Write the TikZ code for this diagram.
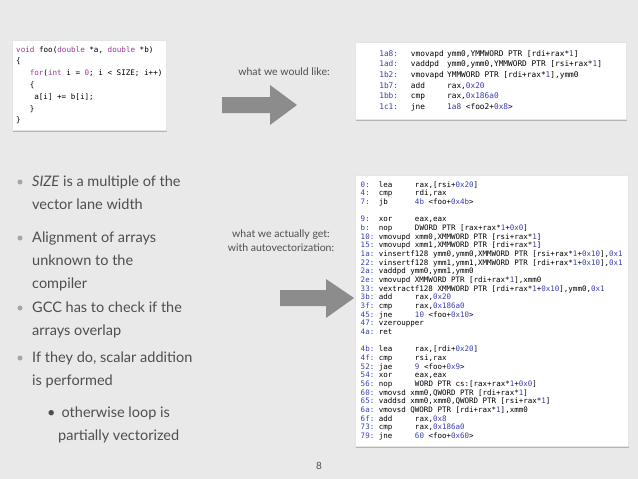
\documentclass[tikz,border=0pt]{standalone}
\usepackage{fontspec}
\setmainfont{Lato}
\setmonofont{DejaVu Sans Mono}
\usetikzlibrary{shadows}
\definecolor{bg}{HTML}{E9E9EA}
\definecolor{txt}{HTML}{4E4E50}
\definecolor{nb}{HTML}{3A3FB0}
\definecolor{kw}{HTML}{9A3C9A}
\definecolor{arr}{HTML}{8C8C8C}
\newlength\ch \setlength\ch{4.52pt}
\newcommand\B[1]{\textcolor{nb}{#1}}
\newcommand\K[1]{\textcolor{kw}{#1}}
\newcommand\Lx[3]{\makebox[4\ch][l]{\B{#1}}\makebox[8\ch][l]{#2}#3}
\newcommand\Ly[3]{\makebox[4\ch][l]{\B{#1}}#2 #3}
\newcommand\Lz[3]{\makebox[7\ch][l]{\B{#1}}\makebox[8\ch][l]{#2}#3}
\tikzset{
 codebox/.style={draw=white!80!gray, fill=white, drop shadow={shadow xshift=1pt,shadow yshift=-1.5pt,opacity=0.5}, align=left, inner sep=4pt, anchor=north west, font=\ttfamily},
 bul/.style={text=txt, font=\fontsize{14.5}{23}\selectfont, anchor=base west, inner sep=0pt},
 lab/.style={text=txt, font=\fontsize{10.5}{14}\selectfont, align=center},
 dot/.style={circle, fill=gray!70, inner sep=0pt, minimum size=5pt},
 blk/.style={fill=arr, draw=none}
}
\begin{document}
\begin{tikzpicture}[x=1pt,y=-1pt]
\useasboundingbox (0,0) rectangle (638,479);
\fill[bg] (0,0) rectangle (638,479);

\node[codebox, minimum width=154pt, minimum height=90pt, font=\ttfamily\fontsize{7.6}{11.8}\selectfont] (c) at (12,40) {%
\K{void} foo(\K{double} *a, \K{double} *b)\\
\{\\
\hspace{3\ch}\K{for}(\K{int} i = \K{0}; i < SIZE; i++)\\
\hspace{3\ch}\{\\
\hspace{4\ch}a[i] += b[i];\\
\hspace{3\ch}\}\\
\}};

\node[codebox, minimum width=271pt, minimum height=77pt, font=\ttfamily\fontsize{7.8}{10.6}\selectfont] (w) at (355,42) {%
\Lz{1a8:}{vmovapd}{ymm0,YMMWORD PTR [rdi+rax*\B{1}]}\\
\Lz{1ad:}{vaddpd}{ymm0,ymm0,YMMWORD PTR [rsi+rax*\B{1}]}\\
\Lz{1b2:}{vmovapd}{YMMWORD PTR [rdi+rax*\B{1}],ymm0}\\
\Lz{1b7:}{add}{rax,\B{0x20}}\\
\Lz{1bb:}{cmp}{rax,\B{0x186a0}}\\
\Lz{1c1:}{jne}{\B{1a8} <foo2+\B{0x8}>}};

\node[codebox, minimum width=273pt, minimum height=271pt, font=\ttfamily\fontsize{7.5}{8.66}\selectfont] (a) at (355,175) {%
\Lx{0:}{lea}{rax,[rsi+\B{0x20}]}\\
\Lx{4:}{cmp}{rdi,rax}\\
\Lx{7:}{jb}{\B{4b} <foo+\B{0x4b}>}\\
\mbox{}\\
\Lx{9:}{xor}{eax,eax}\\
\Lx{b:}{nop}{DWORD PTR [rax+rax*\B{1}+\B{0x0}]}\\
\Ly{10:}{vmovupd}{xmm0,XMMWORD PTR [rsi+rax*\B{1}]}\\
\Ly{15:}{vmovupd}{xmm1,XMMWORD PTR [rdi+rax*\B{1}]}\\
\Ly{1a:}{vinsertf128}{ymm0,ymm0,XMMWORD PTR [rsi+rax*\B{1}+\B{0x10}],\B{0x1}}\\
\Ly{22:}{vinsertf128}{ymm1,ymm1,XMMWORD PTR [rdi+rax*\B{1}+\B{0x10}],\B{0x1}}\\
\Ly{2a:}{vaddpd}{ymm0,ymm1,ymm0}\\
\Ly{2e:}{vmovupd}{XMMWORD PTR [rdi+rax*\B{1}],xmm0}\\
\Ly{33:}{vextractf128}{XMMWORD PTR [rdi+rax*\B{1}+\B{0x10}],ymm0,\B{0x1}}\\
\Lx{3b:}{add}{rax,\B{0x20}}\\
\Lx{3f:}{cmp}{rax,\B{0x186a0}}\\
\Lx{45:}{jne}{\B{10} <foo+\B{0x10}>}\\
\Ly{47:}{vzeroupper}{}\\
\Ly{4a:}{ret}{}\\
\mbox{}\\
\Lx{4b:}{lea}{rax,[rdi+\B{0x20}]}\\
\Lx{4f:}{cmp}{rsi,rax}\\
\Lx{52:}{jae}{\B{9} <foo+\B{0x9}>}\\
\Lx{54:}{xor}{eax,eax}\\
\Lx{56:}{nop}{WORD PTR cs:[rax+rax*\B{1}+\B{0x0}]}\\
\Ly{60:}{vmovsd}{xmm0,QWORD PTR [rdi+rax*\B{1}]}\\
\Ly{65:}{vaddsd}{xmm0,xmm0,QWORD PTR [rsi+rax*\B{1}]}\\
\Ly{6a:}{vmovsd}{QWORD PTR [rdi+rax*\B{1}],xmm0}\\
\Lx{6f:}{add}{rax,\B{0x8}}\\
\Lx{73:}{cmp}{rax,\B{0x186a0}}\\
\Lx{79:}{jne}{\B{60} <foo+\B{0x60}>}};

\node[lab] (l1) at (284,72) {what we would like:};
\node[lab] (l2) at (281,241) {what we actually get:\\with autovectorization:};

\fill[blk] (222,97) -- (270,97) -- (270,85) -- (297,105) -- (270,125) -- (270,113) -- (222,113) -- cycle;
\fill[blk] (280,290) -- (326,290) -- (326,279) -- (354,298) -- (326,318) -- (326,306) -- (280,306) -- cycle;

\node[dot] (d1) at (20,182) {};
\node[dot] (d2) at (20,238) {};
\node[dot] (d3) at (20,308) {};
\node[dot] (d4) at (20,358) {};
\node[bul] (b1a) at (32,186) {\textit{SIZE} is a multiple of the};
\node[bul] (b1b) at (32,209) {vector lane width};
\node[bul] (b2a) at (32,242) {Alignment of arrays};
\node[bul] (b2b) at (32,265) {unknown to the};
\node[bul] (b2c) at (32,288) {compiler};
\node[bul] (b3a) at (32,312) {GCC has to check if the};
\node[bul] (b3b) at (32,335) {arrays overlap};
\node[bul] (b4a) at (32,362) {If they do, scalar addition};
\node[bul] (b4b) at (32,385) {is performed};
\node[bul] (b5a) at (47,417) {\textbullet\hspace{6pt}otherwise loop is};
\node[bul] (b5b) at (58,440) {partially vectorized};
\node[text=txt, font=\fontsize{10}{12}\selectfont] (pn) at (319,466) {8};
\end{tikzpicture}
\end{document}
